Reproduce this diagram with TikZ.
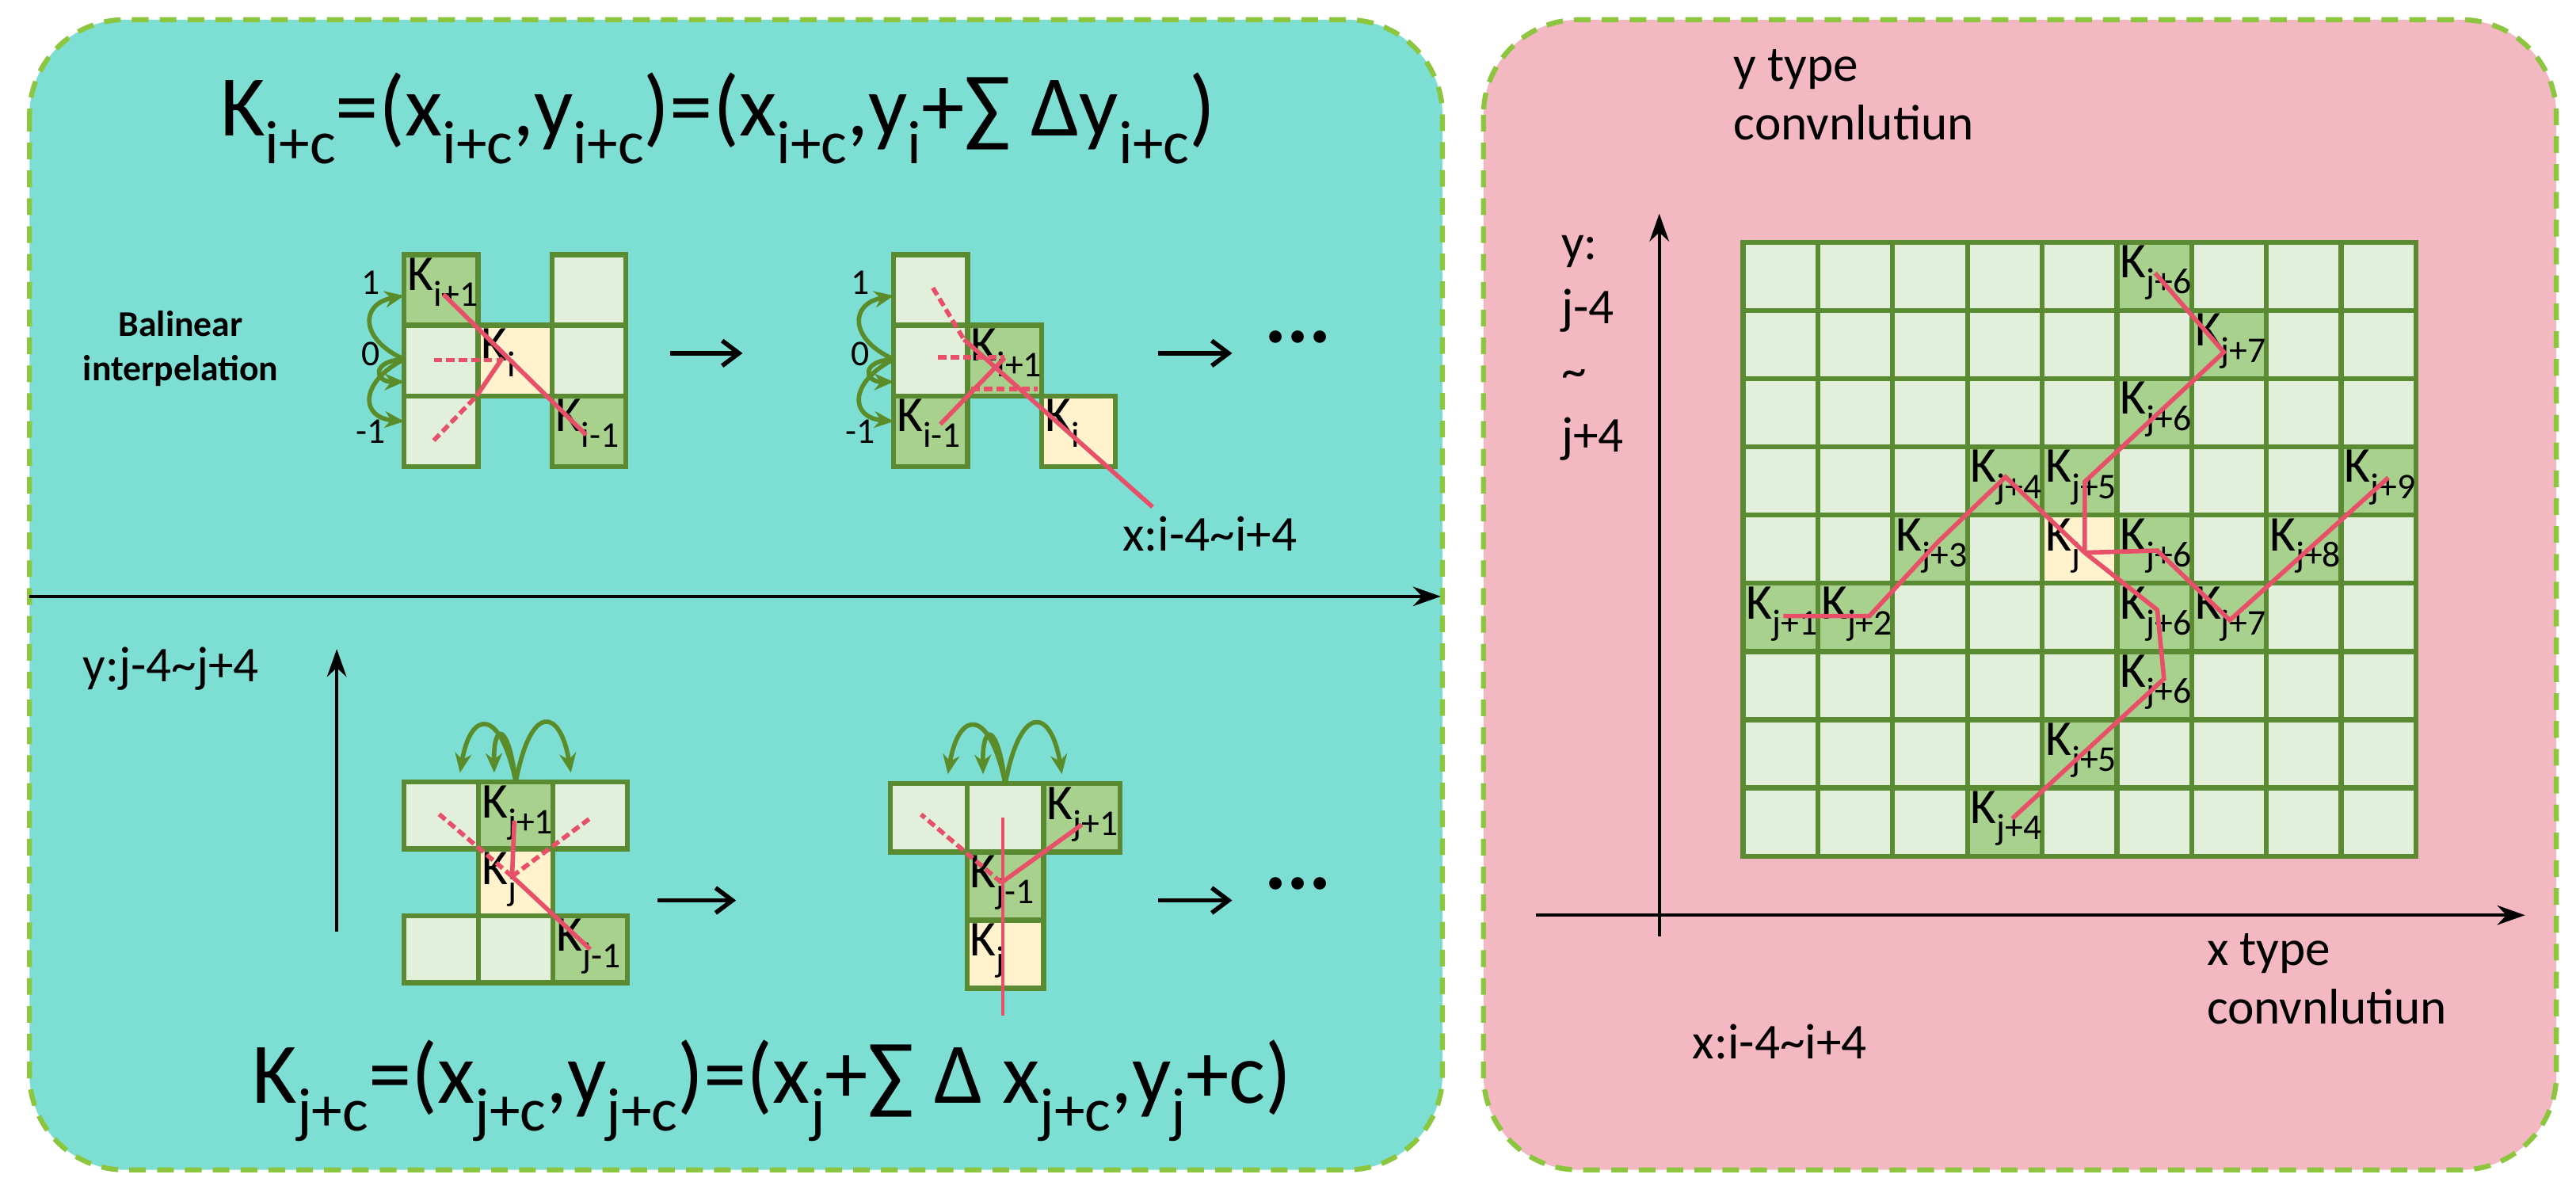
\documentclass[tikz,border=0pt]{standalone}
\usepackage{fontspec}
\setmainfont{Carlito}
\usetikzlibrary{arrows.meta}
\definecolor{tealbg}{HTML}{7DDFD3}
\definecolor{pinkbg}{HTML}{F3B8C2}
\definecolor{panelb}{HTML}{8CC63F}
\definecolor{cl}{HTML}{E2EFDA}
\definecolor{cd}{HTML}{A9D18E}
\definecolor{cc}{HTML}{FFF2CC}
\definecolor{cb}{HTML}{5A8A32}
\definecolor{rl}{HTML}{E8506A}
\definecolor{ga}{HTML}{5B8C2A}
\newcommand\subx[2]{\raisebox{-0.32em}{\fontsize{#1}{#1}\selectfont #2}}
\newcommand\kk[1]{K\subx{13}{#1}}
\newcommand\cel[3]{\filldraw[cellst,fill=#3] (#1,#2) rectangle ++(1,1);}
\begin{document}
\begin{tikzpicture}[x=0.02074cm,y=-0.02074cm,
  panel/.style={draw=panelb,dash pattern=on 6pt off 4pt,line width=1.8pt,rounded corners=1.2cm},
  cellst/.style={draw=cb,line width=1.8pt},
  klab/.style={anchor=north west,inner sep=1pt,font=\fontsize{18}{18}\selectfont},
  redl/.style={draw=rl,line width=1.6pt},
  redd/.style={draw=rl,line width=1.6pt,dash pattern=on 3pt off 1.5pt},
  garr/.style={draw=ga,line width=1.6pt,-{Stealth[length=7pt,width=6pt]}},
  axis/.style={draw=black,line width=1.2pt,-{Stealth[length=10pt,width=7pt]}},
  bigarr/.style={draw=black,line width=1.6pt,-{Straight Barb[length=6pt,width=9pt]}},
  txt/.style={font=\fontsize{18}{21}\selectfont,inner sep=0pt},
  formula/.style={font=\fontsize{31}{31}\selectfont,inner sep=0pt}]
\useasboundingbox (0,0) rectangle (1568,730.5);
\draw[panel,fill=tealbg] (18,12) rectangle (878,712);
\draw[panel,fill=pinkbg] (903,12) rectangle (1556,712);

% top formula
\node[formula] (f1) at (437,72) {K\subx{22}{i+c}=(x\subx{22}{i+c},y\subx{22}{i+c})=(x\subx{22}{i+c},y\subx{22}{i}+∑ Δy\subx{22}{i+c})};
\node[formula] (f2) at (470,664) {K\subx{22}{j+c}=(x\subx{22}{j+c},y\subx{22}{j+c})=(x\subx{22}{j}+∑ Δ x\subx{22}{j+c},y\subx{22}{j}+c)};

% middle axis
\coordinate (ha1) at (18,363); \coordinate (ha2) at (877,363);
\draw[axis] (ha1) -- (ha2);
\node[txt,anchor=west] (xl) at (683,325) {x:i-4\textasciitilde i+4};
\coordinate (va1) at (205,567); \coordinate (va2) at (205,395);
\draw[axis] (va1) -- (va2);
\node[txt,anchor=west] (yl) at (50,407) {y:j-4\textasciitilde j+4};
\node[font=\bfseries\fontsize{13}{16}\selectfont,align=center] (bi) at (110,212) {Balinear\\interpelation};

% group 1
\begin{scope}[shift={(246,155)},x=0.9333cm,y=-0.8918cm]
\cel{0}{0}{cd}\cel{0}{1}{cl}\cel{0}{2}{cl}
\cel{1}{1}{cc}
\cel{2}{0}{cl}\cel{2}{1}{cl}\cel{2}{2}{cd}
\node[klab] (a1) at (0,0) {\kk{i+1}};
\node[klab] (a2) at (1,1) {\kk{i}};
\node[klab] (a3) at (2,2) {\kk{i-1}};
\draw[redl] (0.53,0.56) -- (2.46,2.55);
\draw[redd] (0.4,1.49) -- (1.33,1.49);
\draw[redd] (0.4,2.63) -- (0.98,2.0);
\draw[redl] (0.98,2.0) -- (1.33,1.46);
\draw[garr] (0,1.48) .. controls (-0.6,1.2) and (-0.6,0.7) .. (0,0.58);
\draw[garr] (0,1.48) .. controls (-0.6,1.8) and (-0.6,2.3) .. (0,2.36);
\draw[garr] (0,1.48) .. controls (-0.45,1.5) and (-0.4,1.8) .. (0,1.8);
\node[font=\fontsize{13}{13}\selectfont] (n1) at (-0.45,0.4) {1};
\node[font=\fontsize{13}{13}\selectfont] (n0) at (-0.45,1.4) {0};
\node[font=\fontsize{13}{13}\selectfont] (nm) at (-0.45,2.5) {-1};
\end{scope}
\draw[bigarr] (408,215) -- (452,215);

% group 2
\begin{scope}[shift={(544,155)},x=0.9333cm,y=-0.8918cm]
\cel{0}{0}{cl}\cel{0}{1}{cl}\cel{0}{2}{cd}
\cel{1}{1}{cd}
\cel{2}{2}{cc}
\node[klab] (b1) at (1,1) {\kk{i+1}};
\node[klab] (b2) at (0,2) {\kk{i-1}};
\node[klab] (b3) at (2,2) {\kk{i}};
\draw[redd] (0.53,0.47) -- (0.95,1.2);
\draw[redl] (0.95,1.2) -- (3.5,3.57);
\draw[redd] (0.6,1.45) -- (1.5,1.45);
\draw[redd] (1.05,1.9) -- (1.95,1.9);
\draw[redl] (0.63,2.4) -- (1.5,1.46);
\draw[garr] (0,1.48) .. controls (-0.6,1.2) and (-0.6,0.7) .. (0,0.58);
\draw[garr] (0,1.48) .. controls (-0.6,1.8) and (-0.6,2.3) .. (0,2.36);
\draw[garr] (0,1.48) .. controls (-0.45,1.5) and (-0.4,1.8) .. (0,1.8);
\node[font=\fontsize{13}{13}\selectfont] (m1) at (-0.45,0.4) {1};
\node[font=\fontsize{13}{13}\selectfont] (m0) at (-0.45,1.4) {0};
\node[font=\fontsize{13}{13}\selectfont] (mm) at (-0.45,2.5) {-1};
\end{scope}
\draw[bigarr] (705,215) -- (750,215);
\node[font=\bfseries\fontsize{30}{30}\selectfont] (d1) at (790,205) {...};

% group 3
\begin{scope}[shift={(246,476)},x=0.9396cm,y=-0.8441cm]
\cel{0}{0}{cl}\cel{1}{0}{cd}\cel{2}{0}{cl}
\cel{1}{1}{cc}
\cel{0}{2}{cl}\cel{1}{2}{cl}\cel{2}{2}{cd}
\node[klab] (c1) at (1,0) {\kk{j+1}};
\node[klab] (c2) at (1,1) {\kk{j}};
\node[klab] (c3) at (2,2) {\kk{j-1}};
\draw[redl] (1.45,1.41) -- (2.5,2.5);
\draw[redl] (1.45,1.41) -- (1.48,0.58);
\draw[redd] (1.45,1.41) -- (0.47,0.48);
\draw[redd] (1.45,1.41) -- (2.5,0.54);
\draw[garr] (1.5,0) .. controls (1.3,-1.1) and (0.9,-1.1) .. (0.75,-0.14);
\draw[garr] (1.5,0) .. controls (1.4,-0.9) and (1.2,-0.9) .. (1.21,-0.14);
\draw[garr] (1.5,0) .. controls (1.7,-1.2) and (2.1,-1.1) .. (2.24,-0.14);
\end{scope}
\draw[bigarr] (400,548) -- (448,548);

% group 4
\begin{scope}[shift={(542,477)},x=0.9663cm,y=-0.8607cm]
\cel{0}{0}{cl}\cel{1}{0}{cl}\cel{2}{0}{cd}
\cel{1}{1}{cd}
\cel{1}{2}{cc}
\node[klab] (e1) at (2,0) {\kk{j+1}};
\node[klab] (e2) at (1,1) {\kk{j-1}};
\node[klab] (e3) at (1,2) {\kk{j}};
\draw[redl] (1.45,1.45) -- (2.5,0.6);
\draw[redd] (1.45,1.45) -- (0.4,0.45);
\draw[draw=rl,line width=1.1pt] (1.47,0.5) -- (1.47,3.4);
\draw[garr] (1.5,0) .. controls (1.3,-1.1) and (0.9,-1.1) .. (0.75,-0.14);
\draw[garr] (1.5,0) .. controls (1.4,-0.9) and (1.2,-0.9) .. (1.21,-0.14);
\draw[garr] (1.5,0) .. controls (1.7,-1.2) and (2.1,-1.1) .. (2.24,-0.14);
\end{scope}
\draw[bigarr] (705,548) -- (750,548);
\node[font=\bfseries\fontsize{30}{30}\selectfont] (d2) at (790,538) {...};

% right panel axes
\coordinate (ra1) at (1010,570); \coordinate (ra2) at (1010,130);
\draw[axis] (ra1) -- (ra2);
\coordinate (rb1) at (935,557); \coordinate (rb2) at (1537,557);
\draw[axis] (rb1) -- (rb2);
\node[txt,anchor=north west,align=left] (yt) at (1055,30) {y type\\convnlutiun};
\node[txt,anchor=north west,align=left] (xt) at (1343,568) {x type\\convnlutiun};
\node[txt,anchor=west] (xr) at (1030,634) {x:i-4\textasciitilde i+4};
\node[txt,anchor=north west,align=left] (yr) at (950,143) {y:\\[2pt]j-4\\[2pt]\textasciitilde\\[2pt]j+4};

% grid
\begin{scope}[shift={(1061,147.5)},x=0.9437cm,y=-0.8607cm]
\foreach \c in {0,...,8} \foreach \r in {0,...,8} {\cel{\c}{\r}{cl}}
\cel{5}{0}{cd}\cel{6}{1}{cd}\cel{5}{2}{cd}
\cel{3}{3}{cd}\cel{4}{3}{cd}\cel{8}{3}{cd}
\cel{2}{4}{cd}\cel{4}{4}{cc}\cel{5}{4}{cd}\cel{7}{4}{cd}
\cel{0}{5}{cd}\cel{1}{5}{cd}\cel{5}{5}{cd}\cel{6}{5}{cd}
\cel{5}{6}{cd}\cel{4}{7}{cd}\cel{3}{8}{cd}
\node[klab] (g1) at (5,0) {\kk{j+6}};
\node[klab] (g2) at (6,1) {\kk{j+7}};
\node[klab] (g3) at (5,2) {\kk{j+6}};
\node[klab] (g4) at (3,3) {\kk{j+4}};
\node[klab] (g5) at (4,3) {\kk{j+5}};
\node[klab] (g6) at (8,3) {\kk{j+9}};
\node[klab] (g7) at (2,4) {\kk{j+3}};
\node[klab] (g8) at (4,4) {\kk{j}};
\node[klab] (g9) at (5,4) {\kk{j+6}};
\node[klab] (g10) at (7,4) {\kk{j+8}};
\node[klab] (g11) at (0,5) {\kk{j+1}};
\node[klab] (g12) at (1,5) {\kk{j+2}};
\node[klab] (g13) at (5,5) {\kk{j+6}};
\node[klab] (g14) at (6,5) {\kk{j+7}};
\node[klab] (g15) at (5,6) {\kk{j+6}};
\node[klab] (g16) at (4,7) {\kk{j+5}};
\node[klab] (g17) at (3,8) {\kk{j+4}};
\draw[redl] (0.54,5.48) -- (1.69,5.48) -- (2.6,4.4) -- (3.51,3.44) -- (4.57,4.55) -- (5.54,5.39) -- (5.63,6.4) -- (3.6,8.45);
\draw[redl] (4.57,4.55) -- (4.57,3.51) -- (6.43,1.61) -- (5.51,0.45);
\draw[redl] (4.57,4.55) -- (5.54,4.52) -- (6.51,5.54) -- (8.63,3.45);
\end{scope}
\end{tikzpicture}
\end{document}
